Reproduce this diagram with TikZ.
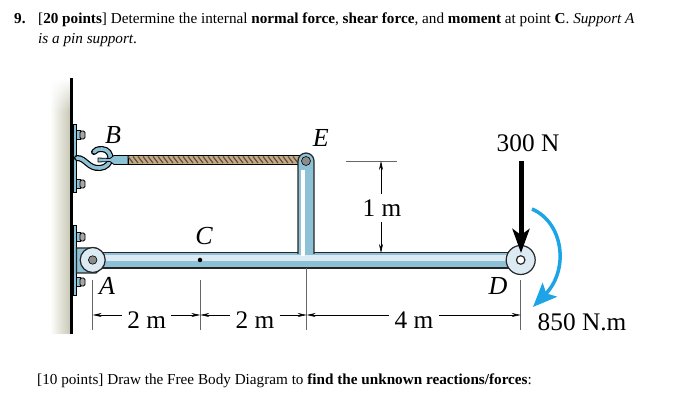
\documentclass[tikz,border=0pt]{standalone}
\usepackage{fontspec}
\setmainfont{Liberation Serif}
\usetikzlibrary{arrows.meta, fadings}
\definecolor{bluasta}{HTML}{8CC1D6}
\definecolor{chiaro}{HTML}{DCEAF4}
\definecolor{corda}{HTML}{C8A87E}
\definecolor{ciano}{HTML}{1CA4E6}
\definecolor{muro}{HTML}{C9C8B6}
\tikzset{
    testo/.style={anchor=base west, inner sep=0pt, font=\fontsize{15.2}{17}\selectfont},
    misura/.style={inner sep=0pt, font=\fontsize{25.3}{28}\selectfont},
    lettera/.style={inner sep=0pt, font=\fontsize{26}{28}\selectfont\itshape},
    freccia/.style={line width=0.6pt, shorten <=5pt, -{Stealth[length=9pt,width=4pt]}},
    guida/.style={line width=0.6pt, black!60},
    bordo/.style={draw, line width=1.2pt, black!85}
}
\begin{document}
\begin{tikzpicture}[x=1pt, y=-1pt]
            \useasboundingbox (0,0) rectangle (689,411);

            % Testo
            \node[testo] (num) at (14,24) {\textbf{9.}};
            \node[testo] (riga1) at (38,24) {[\textbf{20 points}] Determine the internal \textbf{normal force}, \textbf{shear force}, and \textbf{moment} at point \textbf{C}. \textit{Support A}};
            \node[testo] (riga2) at (38,44) {\textit{is a pin support}.};
            \node[testo] (riga3) at (37,385) {[10 points] Draw the Free Body Diagram to \textbf{find the unknown reactions/forces}:};

            % Parete
            \shade[left color=white, right color=muro] (50,80) rectangle (70,334);
            \fill[white, path fading=south] (50,78) rectangle (70,112);
            \draw[line width=2.6pt] (71.5,78) -- (71.5,334);

            % Piastre e bulloni
            \foreach \ya/\yb in {125/193, 226/296} {
                    \draw[line width=1pt, fill=bluasta] (73.5,\ya) rectangle (76.5,\yb);
                }
            \foreach \y in {135, 184, 237, 282} {
                    \draw[line width=0.8pt, fill=bluasta] (76.5,\y-4.5) rectangle (80,\y+4.5);
                    \draw[line width=0.8pt, fill=black!35, rounded corners=1.5pt] (80,\y-4) rectangle (85,\y+4);
                }

            % Gancio
            \draw[line width=6pt, line cap=round] (77,158) .. controls (86,158) and (88,169) .. (100,168) .. controls (113,167) and (114,150) .. (102,149) .. controls (98,149) and (95,150) .. (94,152);
            \draw[line width=3.6pt, bluasta, line cap=round] (77,158) .. controls (86,158) and (88,169) .. (100,168) .. controls (113,167) and (114,150) .. (102,149) .. controls (98,149) and (95,150) .. (94,152);
            \draw[line width=0.8pt, fill=bluasta] (98,158) -- (110,158.5) -- (114,155.5) -- (128,155.5) -- (128,164.5) -- (114,164.5) -- (110,161.5) -- (98,162) -- cycle;

            % Corda
            \draw[line width=0.7pt, fill=corda] (128,155.5) rectangle (300,164);
            \foreach \x in {128,133,...,296} {
                    \draw[line width=1.1pt, black!70] (\x,156.5) -- (\x+5,163);
                }

            % Asta
            \draw[bordo, fill=bluasta] (100,252.7) rectangle (510,268);
            \fill[chiaro] (101,255.5) rectangle (509,261);
            \draw[bordo, fill=bluasta] (298,254) -- (298,161) arc (180:360:8) -- (314,254);
            \fill[white] (301,170) rectangle (305,256);

            % Estremi
            \draw[bordo, fill=bluasta] (76.5,248) -- (96,248) -- (103,254) -- (103,266) -- (96,273) -- (76.5,273) -- cycle;
            \node[circle, bordo, fill=chiaro, minimum size=25pt, inner sep=0pt] (pernoA) at (92.7,260) {};
            \node[circle, line width=0.6pt, draw, fill=black!45, minimum size=8.5pt, inner sep=0pt] (spinaA) at (92.7,260) {};
            \node[circle, bordo, fill=chiaro, minimum size=29pt, inner sep=0pt] (pernoD) at (520.7,260) {};
            \node[circle, bordo, fill=white, minimum size=8.5pt, inner sep=0pt] (spinaD) at (520.7,260) {};
            \node[circle, line width=0.6pt, draw, fill=black!45, minimum size=9pt, inner sep=0pt] (spinaE) at (306,161) {};
            \node[circle, fill=black, minimum size=4.5pt, inner sep=0pt] (puntoC) at (200,260) {};

            % Lettere
            \foreach \nome/\x/\y in {B/113/135, A/107/286, E/320.7/138, C/204/236, D/498/286} {
                    \node[lettera] (let\nome) at (\x,\y) {\nome};
                }

            % Misure
            \node[misura] (due1) at (146.7,320) {2 m};
            \node[misura] (due2) at (255,320) {2 m};
            \node[misura] (quattro) at (414,320) {4 m};
            \node[misura] (uno) at (382,208) {1 m};
            \node[misura] (forza) at (528,143) {300 N};
            \node[misura] (momento) at (582,322) {850 N.m};

            % Linee di riferimento
            \foreach \nome/\x/\y in {a/92.7/280, c/200.3/280, e/306.7/268, d/520.7/280} {
                    \coordinate (\nome1) at (\x,\y);
                    \coordinate (\nome2) at (\x,330);
                    \coordinate (\nome) at (\x,315);
                    \draw[guida] (\nome1) -- (\nome2);
                }
            \coordinate (alto1) at (346,161);
            \coordinate (alto2) at (397,161);
            \coordinate (alto) at (381,161);
            \coordinate (basso) at (381,253);
            \draw[guida] (alto1) -- (alto2);

            % Frecce delle quote
            \foreach \da/\lato/\dest in {due1/west/a, due1/east/c, due2/west/c, due2/east/e, quattro/west/e, quattro/east/d} {
                    \draw[freccia] (\da.\lato |- \dest) -- (\dest);
                }
            \draw[freccia] (alto |- uno.north) -- (alto);
            \draw[freccia] (basso |- uno.south) -- (basso);

            % Carichi
            \coordinate (cimaF) at (521,161);
            \coordinate (puntaF) at (521,253);
            \draw[line width=5pt, -{Stealth[length=24pt,width=17pt,inset=6pt]}] (cimaF) -- (puntaF);
            \coordinate (iniziom) at (532,209);
            \coordinate (finem) at (533,307);
            \draw[ciano, line width=3.5pt, -{Stealth[length=24pt,width=20pt,inset=5pt]}] (iniziom) .. controls (564,223) and (569,270) .. (finem);
        \end{tikzpicture}
\end{document}
